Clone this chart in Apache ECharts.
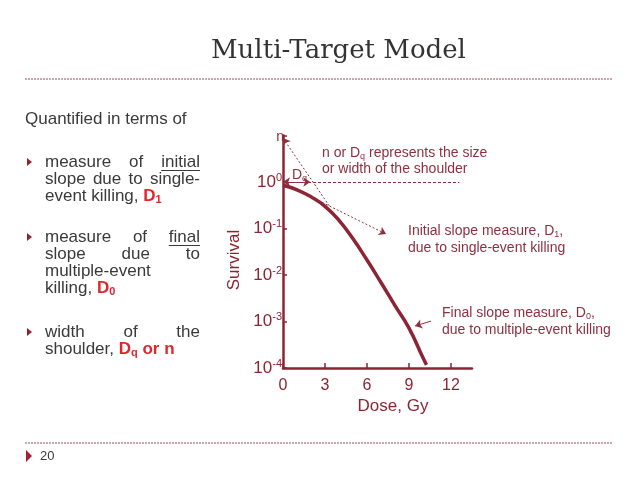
<!DOCTYPE html>
<html>
<head>
<meta charset="utf-8">
<script src="https://cdn.jsdelivr.net/npm/echarts@6/dist/echarts.min.js"></script>
<style>
  html, body { margin: 0; padding: 0; background: #fff; }
  #chart { width: 638px; height: 479px; }
</style>
</head>
<body>
<div id="chart"></div>
<script>
// survival curve
const curveDose = [0, 1, 2, 3, 4, 5, 6, 7, 8, 9, 10, 10.25];
const curveSurvival = [0.85, 0.68, 0.48, 0.30, 0.15, 0.060, 0.021, 0.0069, 0.0022, 0.00072, 0.000166, 0.000117];

// annotation lines in [dose, survival]
const initialSlopeLine = [[0, 0.95], [7.36, 0.076]];
const finalSlopeLine = [[0, 8.8], [3.36, 0.29]];
const dqArrow = [[0, 1], [1.95, 1]];
const shoulderLevel = [[0, 1], [12.6, 1]];
const finalPointer = [[10.57, 0.00102], [9.43, 0.0008]];

const darkRed = '#8c2433';
const annoRed = '#8e3040';
const textGray = '#3a3a3a';
const red = '#e2262b';
const sans = '"Liberation Sans", Arial, sans-serif';

// word placement for the justified bullet lines (y = baseline)
const ctx = document.createElement('canvas').getContext('2d');
ctx.font = '17px ' + sans;
const left = 45, right = 200;

function justify(words, y, underlineIdx) {
    const widths = words.map(w => ctx.measureText(w).width);
    const total = widths.reduce((a, b) => a + b, 0);
    const gap = (right - left - total) / (words.length - 1);
    const els = [];
    let x = left;
    words.forEach((w, i) => {
        els.push({
            type: 'text', x: x, y: y - 6,
            style: {text: w, font: '17px ' + sans, fill: textGray, verticalAlign: 'middle'}
        });
        if (i === underlineIdx) {
            els.push({
                type: 'line',
                shape: {x1: x, y1: y + 2.5, x2: x + widths[i], y2: y + 2.5},
                style: {stroke: textGray, lineWidth: 1}
            });
        }
        x += widths[i] + gap;
    });
    return els;
}

const redRich = {
    r: {fill: red, fontWeight: 'bold', fontSize: 17, fontFamily: sans},
    rs: {fill: red, fontWeight: 'bold', fontSize: 11, fontFamily: sans, padding: [8, 0, 0, 0]}
};

function plain(text, y) {
    return {
        type: 'text', x: left, y: y - 6,
        style: {text: text, font: '17px ' + sans, fill: textGray, rich: redRich, verticalAlign: 'middle'}
    };
}

function bullet(y) {
    return {
        type: 'polygon',
        shape: {points: [[27, y - 4], [32, y], [27, y + 4]]},
        style: {fill: darkRed}
    };
}

const annoRich = {
    s: {fontSize: 9, fill: annoRed, fontFamily: sans, padding: [7, 0, 0, 0]}
};

function anno(text, x, y, align) {
    return {
        type: 'text', x: x, y: y,
        style: {
            text: text, font: '14px ' + sans, fill: annoRed, rich: annoRich,
            align: align || 'left', verticalAlign: 'middle'
        }
    };
}

const graphics = [
    {type: 'line', shape: {x1: 25, y1: 79, x2: 612, y2: 79}, style: {stroke: '#9a4a58', lineWidth: 1, lineDash: [2, 1]}},
    {type: 'line', shape: {x1: 25, y1: 443, x2: 612, y2: 443}, style: {stroke: '#9a4a58', lineWidth: 1, lineDash: [2, 1]}},
    {type: 'polygon', shape: {points: [[26, 450], [32, 456], [26, 462]]}, style: {fill: '#a3202e'}},
    {type: 'text', x: 40, y: 456, style: {text: '20', font: '13px ' + sans, fill: textGray, verticalAlign: 'middle'}},

    {type: 'text', x: 25, y: 119, style: {text: 'Quantified in terms of', font: '17px ' + sans, fill: textGray, verticalAlign: 'middle'}},
    bullet(162),
    ...justify(['measure', 'of', 'initial'], 168, 2),
    ...justify(['slope', 'due', 'to', 'single-'], 185),
    plain('event killing, {r|D}{rs|1}', 202),
    bullet(237),
    ...justify(['measure', 'of', 'final'], 243, 2),
    ...justify(['slope', 'due', 'to'], 260),
    plain('multiple-event', 277),
    plain('killing, {r|D}{rs|0}', 294),
    bullet(332),
    ...justify(['width', 'of', 'the'], 338),
    plain('shoulder, {r|D}{rs|q}{r| or n}', 355),

    anno('n', 284, 137, 'right'),
    anno('D{s|q}', 292, 175),
    anno('n or D{s|q} represents the size', 322, 153),
    anno('or width of the shoulder', 322, 169),
    anno('Initial slope measure, D{s|1},', 408, 231),
    anno('due to single-event killing', 408, 248),
    anno('Final slope measure, D{s|0},', 442, 313),
    anno('due to multiple-event killing', 442, 330),
    {
        type: 'text', x: 234, y: 260, rotation: Math.PI / 2,
        style: {text: 'Survival', font: '17px ' + sans, fill: darkRed, align: 'center', verticalAlign: 'middle'}
    }
];

const thin = {color: annoRed, width: 1, type: [2, 2]};

const chart = echarts.init(document.getElementById('chart'));
chart.setOption({
    animation: false,
    title: {
        text: 'Multi-Target Model',
        left: 206, top: 33,
        textStyle: {fontFamily: '"DejaVu Serif", serif', fontSize: 26, fontWeight: 'normal', color: '#333'}
    },
    grid: {left: 283, right: 166, top: 135.5, bottom: 111, containLabel: false, outerBoundsMode: 'none'},
    xAxis: {
        type: 'value', min: 0, max: 13.5, interval: 3,
        name: 'Dose, Gy', nameLocation: 'middle', nameGap: 30,
        nameTextStyle: {color: darkRed, fontSize: 17, fontFamily: sans, padding: [0, 0, 0, 31]},
        axisLine: {lineStyle: {color: darkRed, width: 2.5}},
        axisTick: {inside: true, length: 5, lineStyle: {color: darkRed, width: 1.5}},
        axisLabel: {color: darkRed, fontSize: 16, fontFamily: sans, margin: 10},
        splitLine: {show: false}
    },
    yAxis: {
        type: 'log', logBase: 10, min: 0.0001, max: 10,
        axisLine: {show: true, lineStyle: {color: darkRed, width: 2.5}},
        axisTick: {show: true, inside: true, length: 4, lineStyle: {color: darkRed, width: 1.5}},
        axisLabel: {
            margin: 1,
            formatter: function (v) {
                const e = Math.round(Math.log10(v));
                if (e > 0) return '';
                return '{b|10}{s|' + e + '}';
            },
            rich: {
                b: {color: darkRed, fontSize: 17, fontFamily: sans},
                s: {color: darkRed, fontSize: 11, fontFamily: sans, padding: [0, 0, 9, 0]}
            }
        },
        splitLine: {show: false},
        minorSplitLine: {show: false}
    },
    graphic: graphics,
    series: [{
        type: 'line',
        data: curveDose.map((d, i) => [d, curveSurvival[i]]),
        smooth: 0.5,
        showSymbol: false,
        lineStyle: {color: darkRed, width: 3.5},
        markLine: {
            silent: true,
            symbol: ['none', 'none'],
            symbolSize: 7,
            label: {show: false},
            data: [
                [{coord: initialSlopeLine[0], lineStyle: thin}, {coord: initialSlopeLine[1], symbol: 'arrow'}],
                [{coord: finalSlopeLine[0], symbol: 'arrow', lineStyle: thin}, {coord: finalSlopeLine[1]}],
                [{coord: shoulderLevel[0], lineStyle: {color: annoRed, width: 1, type: [3, 2]}}, {coord: shoulderLevel[1]}],
                [{coord: dqArrow[0], symbol: 'arrow', lineStyle: {color: annoRed, width: 1, type: 'solid'}}, {coord: dqArrow[1], symbol: 'arrow'}],
                [{coord: finalPointer[0], lineStyle: {color: annoRed, width: 1, type: 'solid'}}, {coord: finalPointer[1], symbol: 'arrow'}]
            ]
        }
    }]
});
</script>
</body>
</html>
